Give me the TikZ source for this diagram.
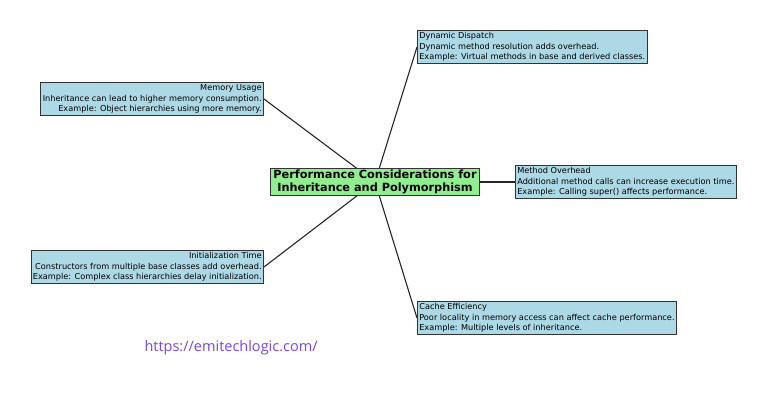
\documentclass[tikz,border=0pt]{standalone}
\usepackage{fontspec}
\setmainfont{DejaVu Sans}
\newfontfamily\urlfont{Open Sans}
\begin{document}
\begin{tikzpicture}[x=1pt,y=-1pt,
  info/.style={draw=black!80,fill=lightblue,line width=0.6pt,inner xsep=2pt,inner ysep=2pt,font=\fontsize{8.2}{10.6}\selectfont},
  conn/.style={draw=black!85,line width=1.1pt}]
\definecolor{lightblue}{HTML}{ADD8E6}
\definecolor{lightgreen}{HTML}{90EE90}
\definecolor{urlc}{HTML}{7B45E8}
\useasboundingbox (0,0) rectangle (768,401);
\fill[white] (0,0) rectangle (768,401);
\coordinate (c) at (375,182);
\node[info,align=right,anchor=east] (mem) at (264,99) {Memory Usage\\Inheritance can lead to higher memory consumption.\\Example: Object hierarchies using more memory.};
\node[info,align=left,anchor=west] (dyn) at (417,47) {Dynamic Dispatch\\Dynamic method resolution adds overhead.\\Example: Virtual methods in base and derived classes.};
\node[info,align=left,anchor=west] (met) at (515,182) {Method Overhead\\Additional method calls can increase execution time.\\Example: Calling super() affects performance.};
\node[info,align=right,anchor=east] (ini) at (264,267) {Initialization Time\\Constructors from multiple base classes add overhead.\\Example: Complex class hierarchies delay initialization.};
\node[info,align=left,anchor=west] (cac) at (417,318) {Cache Efficiency\\Poor locality in memory access can affect cache performance.\\Example: Multiple levels of inheritance.};
\draw[conn] (c) -- (mem.east);
\draw[conn] (c) -- (dyn.west);
\draw[conn] (c) -- (met.west);
\draw[conn] (c) -- (ini.east);
\draw[conn] (c) -- (cac.west);
\node[draw=black!80,fill=lightgreen,line width=0.7pt,align=center,font=\fontsize{11.3}{12.5}\selectfont\bfseries,inner xsep=3pt,inner ysep=2pt] (center) at (c) {Performance Considerations for\\Inheritance and Polymorphism};
\node[text=urlc,font=\urlfont\fontsize{14.5}{16}\selectfont,anchor=west] (url) at (141,348) {https://emitechlogic.com/};
\end{tikzpicture}
\end{document}
